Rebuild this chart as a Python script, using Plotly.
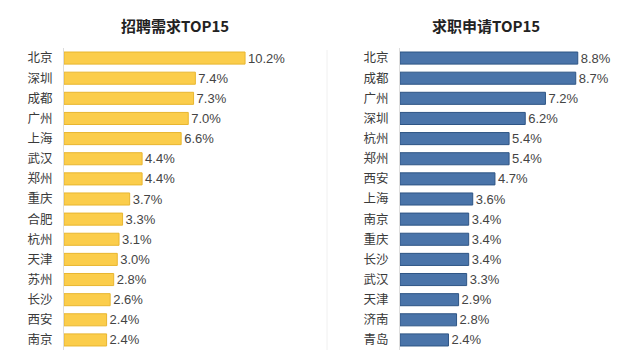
import plotly.graph_objects as go

demand_cities = ["北京", "深圳", "成都", "广州", "上海", "武汉", "郑州", "重庆", "合肥", "杭州", "天津", "苏州", "长沙", "西安", "南京"]
demand_values = [10.2, 7.4, 7.3, 7.0, 6.6, 4.4, 4.4, 3.7, 3.3, 3.1, 3.0, 2.8, 2.6, 2.4, 2.4]

apply_cities = ["北京", "成都", "广州", "深圳", "杭州", "郑州", "西安", "上海", "南京", "重庆", "长沙", "武汉", "天津", "济南", "青岛"]
apply_values = [8.8, 8.7, 7.2, 6.2, 5.4, 5.4, 4.7, 3.6, 3.4, 3.4, 3.4, 3.3, 2.9, 2.8, 2.4]

titles = ["招聘需求TOP15", "求职申请TOP15"]

W, H = 640, 363
FONT = "Liberation Sans, Noto Sans CJK SC, sans-serif"

fig = go.Figure()
fig.add_trace(go.Bar(
    x=demand_values, y=demand_cities, orientation="h",
    xaxis="x", yaxis="y",
    marker=dict(color="#FBCD4B", line=dict(color="#E8B630", width=1)),
    width=0.6,
    texttemplate="%{x:.1f}%", textposition="outside", cliponaxis=False, constraintext="none",
    textfont=dict(size=13, color="#444444", family=FONT),
    showlegend=False,
))
fig.add_trace(go.Bar(
    x=apply_values, y=apply_cities, orientation="h",
    xaxis="x2", yaxis="y2",
    marker=dict(color="#4A74A9", line=dict(color="#2E5585", width=1)),
    width=0.6,
    texttemplate="%{x:.1f}%", textposition="outside", cliponaxis=False, constraintext="none",
    textfont=dict(size=13, color="#444444", family=FONT),
    showlegend=False,
))

y_dom = [13 / H, 315 / H]
common_x = dict(showgrid=False, zeroline=False, showticklabels=False, showline=False, fixedrange=True)
common_y = dict(showgrid=False, zeroline=False, showline=True, linecolor="#DDDDDD", linewidth=1,
                ticks="", ticklabelstandoff=8, autorange="reversed", type="category",
                tickfont=dict(size=12.5, color="#3a3a3a", family="Noto Sans CJK SC"))

fig.update_layout(
    width=W, height=H,
    margin=dict(l=0, r=0, t=0, b=0),
    paper_bgcolor="white", plot_bgcolor="white",
    bargap=0.4,
    xaxis=dict(domain=[64 / W, (64 + 12 * 17.75) / W], range=[0, 12], anchor="y", **common_x),
    yaxis=dict(domain=y_dom, anchor="x", categoryorder="array", categoryarray=demand_cities, **common_y),
    xaxis2=dict(domain=[400 / W, (400 + 10 * 20.2) / W], range=[0, 10], anchor="y2", **common_x),
    yaxis2=dict(domain=y_dom, anchor="x2", categoryorder="array", categoryarray=apply_cities, **common_y),
    annotations=[
        dict(text="<b>" + titles[0] + "</b>", x=175 / W, y=1 - 25 / H, xref="paper", yref="paper",
             xanchor="center", yanchor="middle", showarrow=False,
             font=dict(size=15, color="#222222", family="Noto Sans CJK SC")),
        dict(text="<b>" + titles[1] + "</b>", x=486 / W, y=1 - 25 / H, xref="paper", yref="paper",
             xanchor="center", yanchor="middle", showarrow=False,
             font=dict(size=15, color="#222222", family="Noto Sans CJK SC")),
    ],
    shapes=[dict(type="line", xref="paper", yref="paper", x0=327 / W, x1=327 / W,
                 y0=1 - 350 / H, y1=1 - 50 / H, line=dict(color="#F0F0F0", width=1))],
)

fig.write_html("out.html", config={"displayModeBar": False},
               post_script="document.body.style.margin='0';document.body.style.overflow='hidden';")
